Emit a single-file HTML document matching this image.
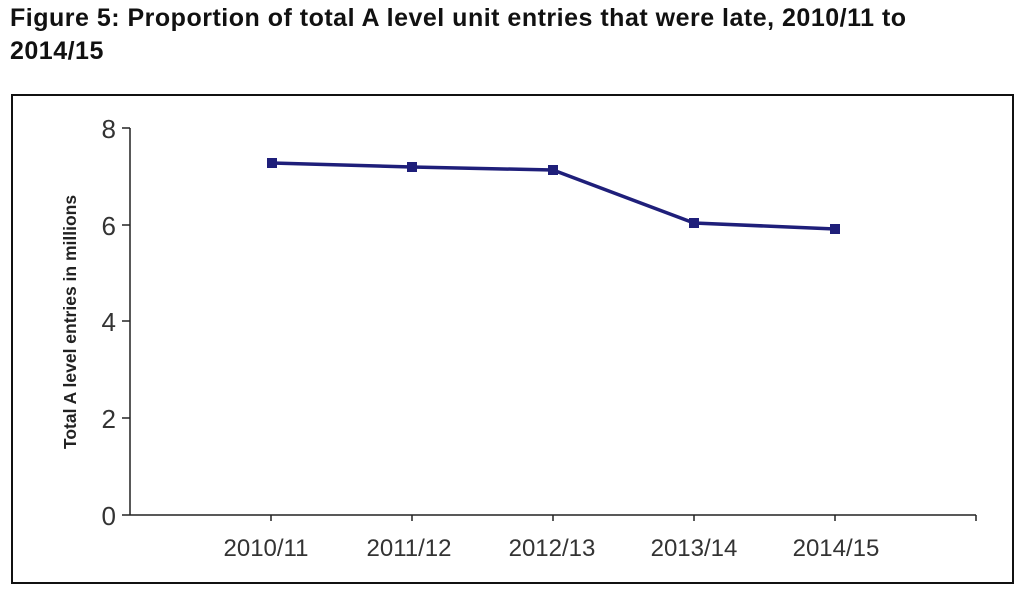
<!DOCTYPE html>
<html><head><style>
body{margin:0;background:#fff;width:1024px;height:596px;overflow:hidden;font-family:"Liberation Sans",Arial,sans-serif}
.t{position:absolute;left:10px;top:2px;font-weight:bold;font-size:25px;letter-spacing:0.5px;line-height:33px;color:#111}
</style></head><body>
<div class="t">Figure 5: Proportion of total A level unit entries that were late, 2010/11 to<br>2014/15</div>
<svg width="1024" height="596" style="position:absolute;left:0;top:0">
<rect x="12" y="95" width="1001" height="488" fill="none" stroke="#111" stroke-width="2"/>
<g stroke="#222" stroke-width="1.5" fill="none">
<line x1="130" y1="128" x2="130" y2="515"/>
<line x1="130" y1="515" x2="976" y2="515"/>
<line x1="122" y1="128" x2="130" y2="128"/>
<line x1="122" y1="225" x2="130" y2="225"/>
<line x1="122" y1="321" x2="130" y2="321"/>
<line x1="122" y1="418" x2="130" y2="418"/>
<line x1="122" y1="515" x2="130" y2="515"/>
<line x1="271" y1="515" x2="271" y2="521"/>
<line x1="412" y1="515" x2="412" y2="521"/>
<line x1="553" y1="515" x2="553" y2="521"/>
<line x1="694" y1="515" x2="694" y2="521"/>
<line x1="835" y1="515" x2="835" y2="521"/>
<line x1="976" y1="515" x2="976" y2="521"/>
</g>
<g font-size="26" fill="#333" text-anchor="end" font-family="Liberation Sans,Arial,sans-serif">
<text x="116" y="138">8</text><text x="116" y="235">6</text><text x="116" y="331">4</text><text x="116" y="428">2</text><text x="116" y="525">0</text>
</g>
<g font-size="24" fill="#333" text-anchor="middle" font-family="Liberation Sans,Arial,sans-serif">
<text x="266" y="556">2010/11</text><text x="409" y="556">2011/12</text><text x="552" y="556">2012/13</text><text x="694" y="556">2013/14</text><text x="836" y="556">2014/15</text>
</g>
<text transform="translate(76,322) rotate(-90)" font-size="17.5" font-weight="bold" fill="#222" text-anchor="middle" font-family="Liberation Sans,Arial,sans-serif">Total A level entries in millions</text>
<polyline points="272,163 412,167 553,170 694,223 835,229" fill="none" stroke="#1f1f7a" stroke-width="3.5"/>
<g fill="#1f1f7a">
<rect x="267" y="158" width="10" height="10"/><rect x="407" y="162" width="10" height="10"/><rect x="548" y="165" width="10" height="10"/><rect x="689" y="218" width="10" height="10"/><rect x="830" y="224" width="10" height="10"/>
</g>
</svg>
</body></html>
